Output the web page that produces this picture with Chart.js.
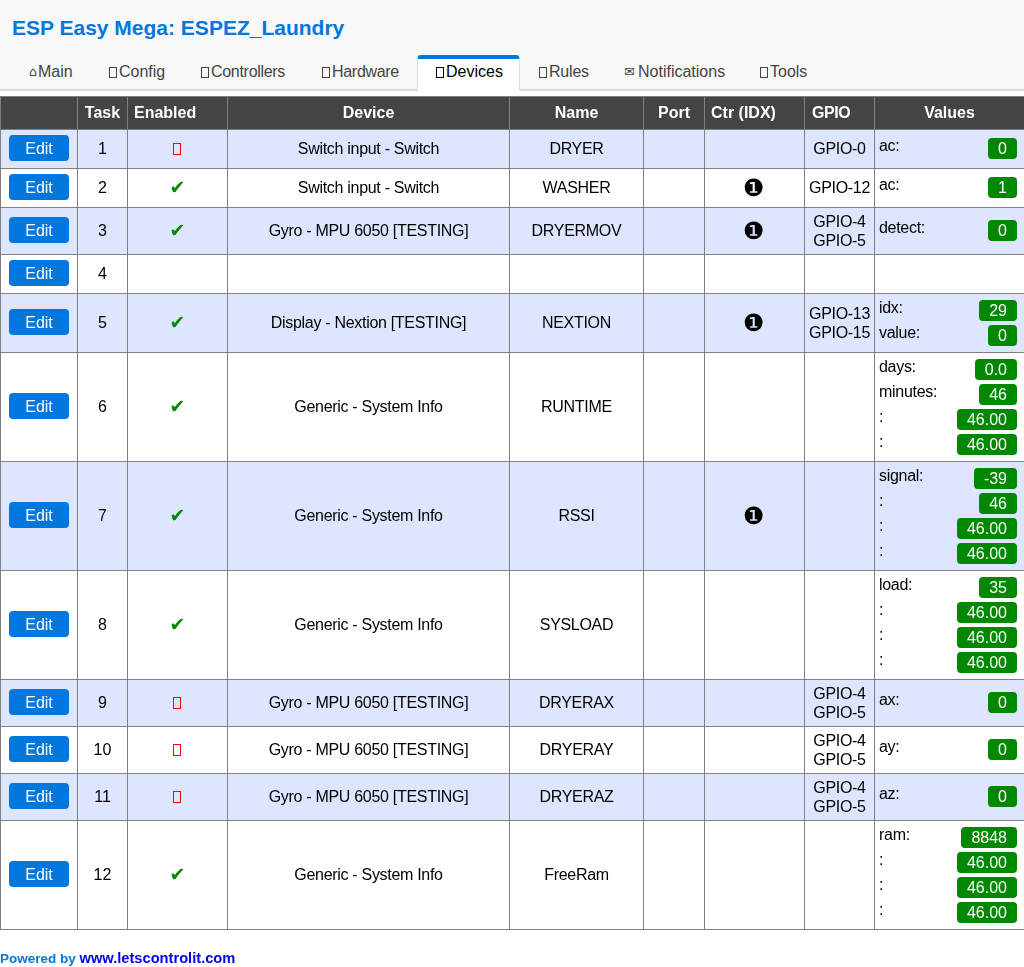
<!DOCTYPE html>
<html lang="en">
<head>
  <meta charset="UTF-8" />
  <title>ESP Easy Mega: ESPEZ_Laundry</title>
  <style>
    html, body { margin: 0; padding: 0; background: #fff; overflow: hidden; }
    body { width: 1024px; height: 967px; position: relative; font-family: "Liberation Sans", Arial, sans-serif; font-size: 16px; }
    .top { position: absolute; left: 0; top: 0; width: 1024px; height: 89px; background: #f8f8f8; border-bottom: 2px solid #ddd; }
    h1 { position: absolute; left: 12px; top: 15px; margin: 0; font-size: 21px; line-height: 26px; color: #07d; }
    .activeTab { position: absolute; left: 417px; top: 55px; width: 103px; height: 36px; background: #fff; border: 1px solid #ddd; border-top: 4px solid #07d; border-bottom: 0; border-radius: 4px 4px 0 0; box-sizing: border-box; }
    .tab { position: absolute; top: 63px; color: #444; line-height: 18px; white-space: nowrap; }
    .icon { position: absolute; top: 67px; width: 6px; height: 9px; border: 1px solid #444; }
    .glyph { position: absolute; top: 63px; line-height: 18px; font-family: "DejaVu Sans"; color: #444; font-size: 13px; }
    canvas { position: absolute; left: 0; top: 0; }
    .footer { position: absolute; left: 0; top: 950px; font-size: 13.5px; font-weight: bold; color: #07d; line-height: 16px; }
    .footer a { color: #00e; text-decoration: none; font-size: 14.67px; }
  </style>
</head>
<body>
  <div class="top"></div>
  <h1>ESP Easy Mega: ESPEZ_Laundry</h1>
  <div class="activeTab"></div>
  <span class="glyph" style="left:29px">⌂</span><span class="tab" style="left:38px">Main</span>
  <i class="icon" style="left:109px"></i><span class="tab" style="left:119px">Config</span>
  <i class="icon" style="left:201px"></i><span class="tab" style="left:211px;letter-spacing:-.3px">Controllers</span>
  <i class="icon" style="left:322px"></i><span class="tab" style="left:332px;letter-spacing:-.3px">Hardware</span>
  <i class="icon" style="left:436px;border-color:#000"></i><span class="tab" style="left:446px;color:#000">Devices</span>
  <i class="icon" style="left:539px"></i><span class="tab" style="left:549px;letter-spacing:-.2px">Rules</span>
  <span class="glyph" style="left:624px">✉</span><span class="tab" style="left:638px">Notifications</span>
  <i class="icon" style="left:760px"></i><span class="tab" style="left:770px">Tools</span>
  <canvas id="deviceTable" width="1024" height="967"></canvas>
  <div class="footer">Powered by <a>www.letscontrolit.com</a></div>

  <script src="https://cdn.jsdelivr.net/npm/chart.js"></script>
  <script>
    // Table contents
    const headers = ['', 'Task', 'Enabled', 'Device', 'Name', 'Port', 'Ctr (IDX)', 'GPIO', 'Values'];
    const tasks = [1, 2, 3, 4, 5, 6, 7, 8, 9, 10, 11, 12];
    const enabled = ['off', 'on', 'on', '', 'on', 'on', 'on', 'on', 'off', 'off', 'off', 'on'];
    const devices = [
      'Switch input - Switch', 'Switch input - Switch', 'Gyro - MPU 6050 [TESTING]', '',
      'Display - Nextion [TESTING]', 'Generic - System Info', 'Generic - System Info', 'Generic - System Info',
      'Gyro - MPU 6050 [TESTING]', 'Gyro - MPU 6050 [TESTING]', 'Gyro - MPU 6050 [TESTING]', 'Generic - System Info'
    ];
    const names = ['DRYER', 'WASHER', 'DRYERMOV', '', 'NEXTION', 'RUNTIME', 'RSSI', 'SYSLOAD', 'DRYERAX', 'DRYERAY', 'DRYERAZ', 'FreeRam'];
    const ctrIdx = ['', '❶', '❶', '', '❶', '', '❶', '', '', '', '', ''];
    const gpio = [
      ['GPIO-0'], ['GPIO-12'], ['GPIO-4', 'GPIO-5'], [], ['GPIO-13', 'GPIO-15'], [], [], [],
      ['GPIO-4', 'GPIO-5'], ['GPIO-4', 'GPIO-5'], ['GPIO-4', 'GPIO-5'], []
    ];
    const valueNames = [
      ['ac'], ['ac'], ['detect'], [], ['idx', 'value'], ['days', 'minutes', '', ''], ['signal', '', '', ''],
      ['load', '', '', ''], ['ax'], ['ay'], ['az'], ['ram', '', '', '']
    ];
    const values = [
      ['0'], ['1'], ['0'], [], ['29', '0'], ['0.0', '46', '46.00', '46.00'], ['-39', '46', '46.00', '46.00'],
      ['35', '46.00', '46.00', '46.00'], ['0'], ['0'], ['0'], ['8848', '46.00', '46.00', '46.00']
    ];

    // Layout of the grid, in page pixels (the scales run 0-1024 and 0-967)
    const colLines = [0, 77, 127, 227, 509, 643, 704, 804, 874, 1030];
    const tableTop = 96;
    const headerHeight = 33;
    const lineColor = '#808080';
    const font = '"Liberation Sans", "DejaVu Sans", Arial, sans-serif';

    const measure = document.createElement('canvas').getContext('2d');
    measure.font = '16px ' + font;

    function rowHeight(i) {
      return Math.max(39, 9 + 25 * values[i].length, 9 + 19 * gpio[i].length);
    }

    // row bands: top line, bar center and bar thickness
    const bands = [];
    let y = tableTop + headerHeight;
    tasks.forEach((t, i) => {
      const h = rowHeight(i);
      bands.push({ top: y, center: y + (h + 1) / 2, thick: h + 1 });
      y += h;
    });

    function cellBars(center) {
      return headers.map((h, c) => ({ x: [colLines[c], colLines[c + 1] + 1], y: center }));
    }

    function badgeTop(i, n) {
      return Math.floor(bands[i].center - values[i].length * 25 / 2 + 2) + 25 * n;
    }

    const barBase = { type: 'bar', grouped: false, inflateAmount: 0, borderSkipped: false };
    const datasets = [];

    // header and row cells
    datasets.push({
      ...barBase, barThickness: headerHeight + 1, backgroundColor: '#444', borderColor: lineColor, borderWidth: 1,
      data: cellBars(tableTop + (headerHeight + 1) / 2)
    });
    tasks.forEach((t, i) => {
      datasets.push({
        ...barBase, barThickness: bands[i].thick, backgroundColor: i % 2 === 0 ? '#dee6ff' : '#fff',
        borderColor: lineColor, borderWidth: 1, data: cellBars(bands[i].center)
      });
    });
    // Edit buttons
    datasets.push({
      ...barBase, barThickness: 26, backgroundColor: '#07d', borderWidth: 0, borderRadius: 4,
      data: tasks.map((t, i) => ({ x: [9, 69], y: bands[i].center - 1 }))
    });
    // disabled marker boxes
    datasets.push({
      ...barBase, barThickness: 12, backgroundColor: 'rgba(0,0,0,0)', borderColor: '#f00', borderWidth: 1,
      data: tasks.filter((t, i) => enabled[i] === 'off').map(t => ({ x: [173, 181], y: Math.floor(bands[t - 1].center) - 1 + 1 }))
    });
    // value badges
    const badges = [];
    values.forEach((list, i) => list.forEach((v, n) => {
      badges.push({ x: [1017 - Math.round(measure.measureText(v).width + 20), 1017], y: badgeTop(i, n) + 10.5 });
    }));
    datasets.push({
      ...barBase, barThickness: 21, backgroundColor: '#080', borderWidth: 0, borderRadius: 4, data: badges
    });
    // chart.js paints the first dataset last, cells have to go underneath
    datasets.reverse();

    const tableText = {
      id: 'tableText',
      afterDatasetsDraw(chart) {
        const { ctx, scales } = chart;
        const put = (text, px, py, color, align, f, spacing) => {
          ctx.font = f || '16px ' + font;
          ctx.letterSpacing = spacing || (f ? '0px' : '-0.3px');
          ctx.fillStyle = color;
          ctx.textAlign = align || 'center';
          ctx.textBaseline = 'alphabetic';
          ctx.fillText(text, scales.x.getPixelForValue(px), scales.y.getPixelForValue(py));
        };
        const mid = c => (colLines[c] + Math.min(colLines[c + 1], 1024) + 1) / 2;
        const headBold = 'bold 16px ' + font;

        ctx.save();
        headers.forEach((h, c) => {
          if (c === 2) put(h, 134, 118, '#fff', 'left', headBold);
          else if (c === 6) put(h, 711, 118, '#fff', 'left', headBold);
          else if (c === 7) put(h, 812, 118, '#fff', 'left', headBold, '-0.4px');
          else put(h, mid(c), 118, '#fff', 'center', headBold);
        });
        tasks.forEach((t, i) => {
          const base = Math.round(bands[i].center + 5);
          put('Edit', 39, base, '#fff', 'center', '16px ' + font);
          put(String(t), mid(1), base, '#000', 'center', '16px ' + font);
          if (enabled[i] === 'on') put('✔', mid(2), base + 1, '#080', 'center', '19px "DejaVu Sans"');
          put(devices[i], mid(3), base, '#000');
          put(names[i], mid(4), base, '#000');
          put(ctrIdx[i], mid(6) - 1, base + 3, '#000', 'center', '24px "DejaVu Sans"');
          gpio[i].forEach((g, n) => {
            put(g, mid(7), base - 9.5 * (gpio[i].length - 1) + 19 * n, '#000');
          });
          values[i].forEach((v, n) => {
            const top = badgeTop(i, n);
            put(valueNames[i][n] + ':', 879, top + 13, '#000', 'left');
            put(v, 1007, top + 16, '#fff', 'right', '16px ' + font);
          });
        });
        ctx.restore();
      }
    };

    new Chart(document.getElementById('deviceTable'), {
      data: { datasets },
      plugins: [tableText],
      options: {
        indexAxis: 'y',
        responsive: false,
        animation: false,
        devicePixelRatio: 1,
        events: [],
        layout: { padding: 0 },
        plugins: { legend: { display: false }, tooltip: { enabled: false }, title: { display: false } },
        scales: {
          x: { type: 'linear', min: 0, max: 1024, display: false },
          y: { type: 'linear', min: 0, max: 967, reverse: true, offset: false, display: false }
        }
      }
    });
  </script>
</body>
</html>
